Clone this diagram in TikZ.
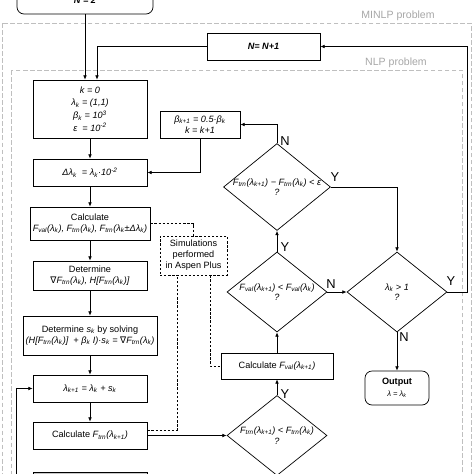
\documentclass[tikz,border=0pt]{standalone}
\usepackage{fontspec}
\setmainfont{Liberation Sans}
\newfontfamily\dejavu{DejaVu Sans}
\usetikzlibrary{arrows.meta, positioning, calc, shapes.geometric}
\newcommand{\fs}{\fontsize{7.8}{9.5}\selectfont}
\newcommand{\lk}{λ\textsubscript{k}}
\newcommand{\lkk}{λ\textsubscript{k+1}}
\newcommand{\Fsub}[1]{F\textsubscript{#1}}
\newcommand{\nab}{{\dejavu\upshape ∇}}

\begin{document}
\begin{tikzpicture}[
  x=0.03cm, y=-0.03cm,
  font=\fs,
  box/.style={draw, rectangle, align=center, minimum width=3.42cm, minimum height=0.81cm, inner sep=1pt, line width=0.6pt, font=\fs},
  term/.style={box, rounded corners=6pt},
  math/.style={font=\fs\itshape},
  cond/.style={draw, diamond, minimum width=3cm, minimum height=2.4cm, inner sep=0pt, line width=0.6pt},
  qtext/.style={align=center, inner sep=0pt, font=\fontsize{7.8}{9}\selectfont\itshape},
  region/.style={draw=black!25, dash pattern=on 4pt off 2pt, line width=0.8pt},
  rlabel/.style={text=black!35, font=\fontsize{9}{10}\selectfont},
  yn/.style={font=\fontsize{11}{12}\selectfont, inner sep=0pt},
  arr/.style={-{Latex[length=1.3mm, width=1.1mm]}, line width=0.6pt},
  dsh/.style={dash pattern=on 2pt off 1.5pt, line width=0.5pt}
]
\useasboundingbox (0,0) rectangle (474,474);

\draw[region] (2,23) rectangle (471,520);
\draw[region] (11,70) rectangle (462,520);
\node[rlabel] (minlp) at (398,16) {MINLP problem};
\node[rlabel] (nlp) at (396,63) {NLP problem};

\node[term, minimum width=4.08cm, minimum height=0.84cm, font=\fs\bfseries\itshape] (start) at (85,0) {N = 2};
\node[box, minimum width=3.39cm, font=\fs\bfseries\itshape] (incN) at (263.5,46.5) {N= N+1};

\node[box, minimum height=1.74cm, font=\fontsize{7.8}{10.8}\selectfont\itshape] (init) at (90,109) {k = 0\\ \lk{} = (1,1)\\ β\textsubscript{k} = 10\textsuperscript{3}\\ ε\ \ = 10\textsuperscript{-2}};
\node[box, minimum width=2.4cm, math] (beta) at (200,124.5) {β\textsubscript{k+1} = 0.5·β\textsubscript{k}\\ k = k+1};
\node[box, math] (dlam) at (90,172.5) {Δ\lk{}\ \ = \lk·10\textsuperscript{-2}};
\node[box, minimum width=3.6cm, minimum height=0.99cm] (calcA) at (90,223.5) {Calculate\\ \textit{\Fsub{val}(\lk), \Fsub{trn}(\lk), \Fsub{trn}(\lk±Δ\lk)}};
\node[box, minimum height=0.87cm] (detA) at (90,275.5) {Determine\\ \textit{\nab\Fsub{trn}(\lk), H[\Fsub{trn}(\lk)]}};
\node[box, minimum width=4.02cm, minimum height=1.17cm] (detB) at (90,335.5) {Determine \textit{s\textsubscript{k}} by solving\\ \textit{(H[\Fsub{trn}(\lk)]\ \ + β\textsubscript{k} I)·s\textsubscript{k} = \nab\Fsub{trn}(\lk)}};
\node[box, math] (upd) at (90,388.5) {\lkk{} = \lk{} + s\textsubscript{k}};
\node[box] (calcB) at (90,435.5) {Calculate \textit{\Fsub{trn}(\lkk)}};
\node[box, fill=black!22, minimum height=0.84cm] (next) at (90,486) {};
\node[box, dash pattern=on 2pt off 1.5pt, minimum width=2.01cm, minimum height=1.17cm] (sim) at (193.5,255.5) {Simulations\\ performed\\ in Aspen Plus};

\node[cond, minimum width=3.21cm, minimum height=2.61cm, label={[qtext]center:{\Fsub{trn}(\lkk) − \Fsub{trn}(\lk) < ε\\ ?}}] (convg) at (277,187) {};
\node[cond, label={[qtext]center:{\Fsub{val}(\lkk) < \Fsub{val}(\lk)\\ ?}}] (valchk) at (277,292) {};
\node[cond, label={[qtext]center:{\lk{} > 1\\ ?}}] (lamchk) at (397,292) {};
\node[cond, label={[qtext]center:{\Fsub{trn}(\lkk) < \Fsub{trn}(\lk)\\ ?}}] (trnchk) at (277,435.5) {};
\node[box, minimum width=3.36cm, minimum height=0.78cm] (calcV) at (277,366) {Calculate \textit{\Fsub{val}(\lkk)}};
\node[term, minimum width=1.92cm, minimum height=1.02cm] (out) at (397,388) {\textbf{Output}\\ \textit{\fontsize{6.5}{8}\selectfont λ = \lk}};

\node[yn] (convgN) at (285,141) {N};
\node[yn] (convgY) at (335,177) {Y};
\node[yn] (valY) at (285,247) {Y};
\node[yn] (valN) at (331,284) {N};
\node[yn] (lamY) at (451,281) {Y};
\node[yn] (lamN) at (404,337) {N};
\node[yn] (trnY) at (285,394) {Y};

\coordinate (rtop) at (467,46.5);

\draw[arr] (start.south) -- (start.south |- init.north);
\draw[arr] (incN.west) -| ([xshift=0.21cm]init.north);
\draw[arr] (init) -- (dlam);
\draw[arr] (dlam) -- (calcA);
\draw[arr] (calcA) -- (detA);
\draw[arr] (detA) -- (detB);
\draw[arr] (detB) -- (upd);
\draw[arr] (upd) -- (calcB);
\draw[arr] (calcB.east) -- (trnchk.west);
\draw[arr] (trnchk.north) -- (calcV.south);
\draw[arr] (calcV.north) -- (valchk.south);
\draw[arr] (valchk.north) -- (convg.south);
\draw[arr] (valchk.east) -- (lamchk.west);
\draw[arr] (convg.north) |- (beta.east);
\draw[arr] (beta.south) |- (dlam.east);
\draw[arr] (convg.east) -| (lamchk.north);
\draw[arr] (lamchk.south) -- (out.north);
\draw[arr] (lamchk.east) -| (rtop) -- (incN.east);
\draw[arr] (next.west) -- ++(-16,0) |- (upd.west);

\draw[dsh] (calcA.east) -| (sim.north);
\draw[dsh] ([yshift=0.165cm]calcB.east) -| ([xshift=-0.5cm]sim.south);
\draw[dsh] ([xshift=0.5cm]sim.south) |- (calcV.west);
\end{tikzpicture}
\end{document}
